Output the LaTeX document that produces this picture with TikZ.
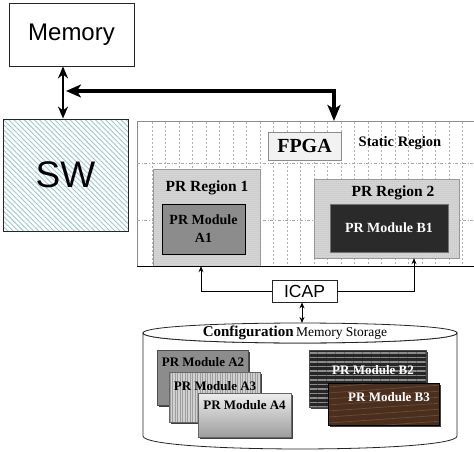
\documentclass[tikz,border=0pt]{standalone}
\usepackage{fontspec}
\setmainfont{Liberation Serif}
\newfontfamily\arialf{Liberation Sans}
\usetikzlibrary{arrows.meta,patterns.meta,shadows,calc}
\definecolor{swhatch}{HTML}{9CCACA}
\definecolor{darkmod}{HTML}{2A2A2A}
\definecolor{woodbase}{HTML}{4A2F1F}
\definecolor{woodline}{HTML}{6E4C36}
\begin{document}
\begin{tikzpicture}[x=1pt,y=-1pt,
  bigfont/.style={font=\arialf\fontsize{#1}{#1}\selectfont},
  serifb/.style={font=\bfseries\fontsize{#1}{18}\selectfont},
  regionbox/.style={draw=black!40, rectangle, inner sep=0pt, preaction={fill=black!14},
     pattern={Dots[distance=2pt,radius=0.5pt]}, pattern color=black!38},
  modshadow/.style={drop shadow={shadow xshift=1.5pt,shadow yshift=-1.8pt,opacity=0.75,fill=black}},
  modbox/.style={rectangle, inner sep=0pt, modshadow},
  modtext/.style={font=\bfseries\fontsize{13}{15}\selectfont, inner sep=0pt},
  thinarrow/.style={line width=0.8pt, -{Stealth[length=6pt,width=5pt]}},
  thindouble/.style={line width=1pt, {Stealth[length=6pt,width=5pt]}-{Stealth[length=6pt,width=5pt]}},
  gridline/.style={black!30, dash pattern=on 1.5pt off 2.5pt, line width=0.6pt}
]
\useasboundingbox (0,0) rectangle (474,452);
\fill[white] (0,0) rectangle (474,452);

% Memory and SW
\node[draw=black!85, line width=0.8pt, rectangle, minimum width=125pt, minimum height=63pt, bigfont=24] (mem) at (71.5,34.5) {Memory};
\node[draw=black!85, line width=0.8pt, rectangle, minimum width=125pt, minimum height=112pt,
  preaction={fill=white}, pattern={Lines[angle=-45,distance=3.6pt,line width=0.9pt]}, pattern color=swhatch,
  bigfont=37] (sw) at (65.5,175) {SW};

% Static region
\node[draw=black!45, rectangle, inner sep=0pt, minimum width=350pt, minimum height=145pt, anchor=north west] (static) at (137,121) {};
\foreach \x in {152,165.5,...,474} \draw[gridline] (\x,122) -- (\x,265);
\draw[black!35, dash dot, line width=0.5pt] (137,163) -- (474,163);
\draw[black!35, dash dot, line width=0.5pt] (137,220) -- (474,220);

\node[draw=black!45, fill=black!5, rectangle, minimum width=73pt, minimum height=28pt, inner sep=0pt,
  font=\bfseries\fontsize{20}{24}\selectfont] (fpgalbl) at (304.5,146) {FPGA};
\node[serifb=14.5, inner sep=0pt] (stlbl) at (400,143) {Static Region};

% PR regions
\node[regionbox, minimum width=107pt, minimum height=97pt] (reg1) at (206.5,217.5) {};
\node[serifb=15.5, inner sep=0pt] (reg1lbl) at (207,188) {PR Region 1};
\node[draw=black, line width=0.8pt, fill=black!45, rectangle, minimum width=83pt, minimum height=50pt,
  align=center, inner sep=0pt, font=\bfseries\fontsize{14}{18}\selectfont] (a1) at (203.5,229) {PR Module\\A1};

\node[regionbox, minimum width=145pt, minimum height=79pt] (reg2) at (386.5,218.5) {};
\node[serifb=15.5, inner sep=0pt] (reg2lbl) at (393,193) {PR Region 2};
\node[draw=black!55, line width=1pt, fill=darkmod, rectangle, minimum width=118pt, minimum height=48pt,
  inner sep=0pt, text=white, font=\bfseries\fontsize{14}{18}\selectfont] (b1) at (389,228) {PR Module B1};

\draw[line width=1.5pt] (static.south west) -- (static.south east);

% ICAP
\node[draw=black!85, line width=0.8pt, fill=white, rectangle, minimum width=65pt, minimum height=22pt,
  inner sep=0pt, bigfont=17.5] (icap) at (304.5,291) {ICAP};
\draw[thinarrow] (icap.west) -| ([xshift=-5.5pt]reg1.south);
\draw[thinarrow] (icap.east) -| ([xshift=27.5pt]reg2.south);

% Cylinder
\filldraw[fill=white, draw=black!85, line width=0.8pt]
  (143,333) -- (143,436) .. controls (143,453.3) and (457,453.3) .. (457,436) -- (457,333)
  .. controls (457,346.3) and (143,346.3) .. (143,333) -- cycle;
\filldraw[fill=white, draw=black!85, line width=0.8pt]
  (143,333) .. controls (143,319.7) and (457,319.7) .. (457,333)
  .. controls (457,346.3) and (143,346.3) .. (143,333) -- cycle;
\coordinate (cyltop) at (302,323);
\draw[thindouble] ([xshift=-2.5pt]icap.south) -- (cyltop);
\node[inner sep=0pt] (cfg) at (295,333) {{\fontsize{15}{18}\selectfont\bfseries Configuration} {\fontsize{13.5}{16}\selectfont Memory Storage}};

% Stored modules
\node[modbox, draw=black!70, fill=black!45, minimum width=91pt, minimum height=55pt] (a2) at (202.5,377.5) {};
\node[modtext] (a2t) at (203,362) {PR Module A2};
\node[modbox, draw=black!60, preaction={fill=black!18}, pattern={Lines[angle=90,distance=2.5pt,line width=0.5pt]}, pattern color=black!38,
  minimum width=91pt, minimum height=50pt] (a3) at (214.5,397) {};
\node[modtext] (a3t) at (215,386) {PR Module A3};
\node[modbox, draw=black!60, top color=black!7, bottom color=black!38, minimum width=93pt, minimum height=44pt] (a4) at (244.5,415) {};
\node[modtext] (a4t) at (244.5,405) {PR Module A4};

\node[modbox, draw=black!70, preaction={fill=black!85}, pattern={Lines[angle=0,distance=4.5pt,line width=1.5pt]}, pattern color=black!45,
  minimum width=117pt, minimum height=57pt] (b2) at (367.5,378.5) {};
\node[modtext, text=white] (b2t) at (373,370) {PR Module B2};
\node[modbox, draw=black, preaction={fill=woodbase}, pattern={Lines[angle=4,distance=6pt,line width=0.7pt]}, pattern color=woodline,
  minimum width=111pt, minimum height=42pt] (b3) at (383.5,404) {};
\node[modtext, text=white] (b3t) at (389,397) {PR Module B3};

% Memory connections
\coordinate (memx) at (63,90);
\coordinate (hj) at (66,91);
\coordinate (fx) at (334,91);
\draw[line width=2.5pt, {Stealth[length=12pt,width=10pt]}-{Stealth[length=12pt,width=10pt]}] (mem.south -| memx) -- (sw.north -| memx);
\draw[line width=4pt, {Stealth[length=15pt,width=13pt,inset=4pt]}-{Stealth[length=16pt,width=13pt,inset=4pt]}] (hj) -| (static.north -| fx);
\end{tikzpicture}
\end{document}
